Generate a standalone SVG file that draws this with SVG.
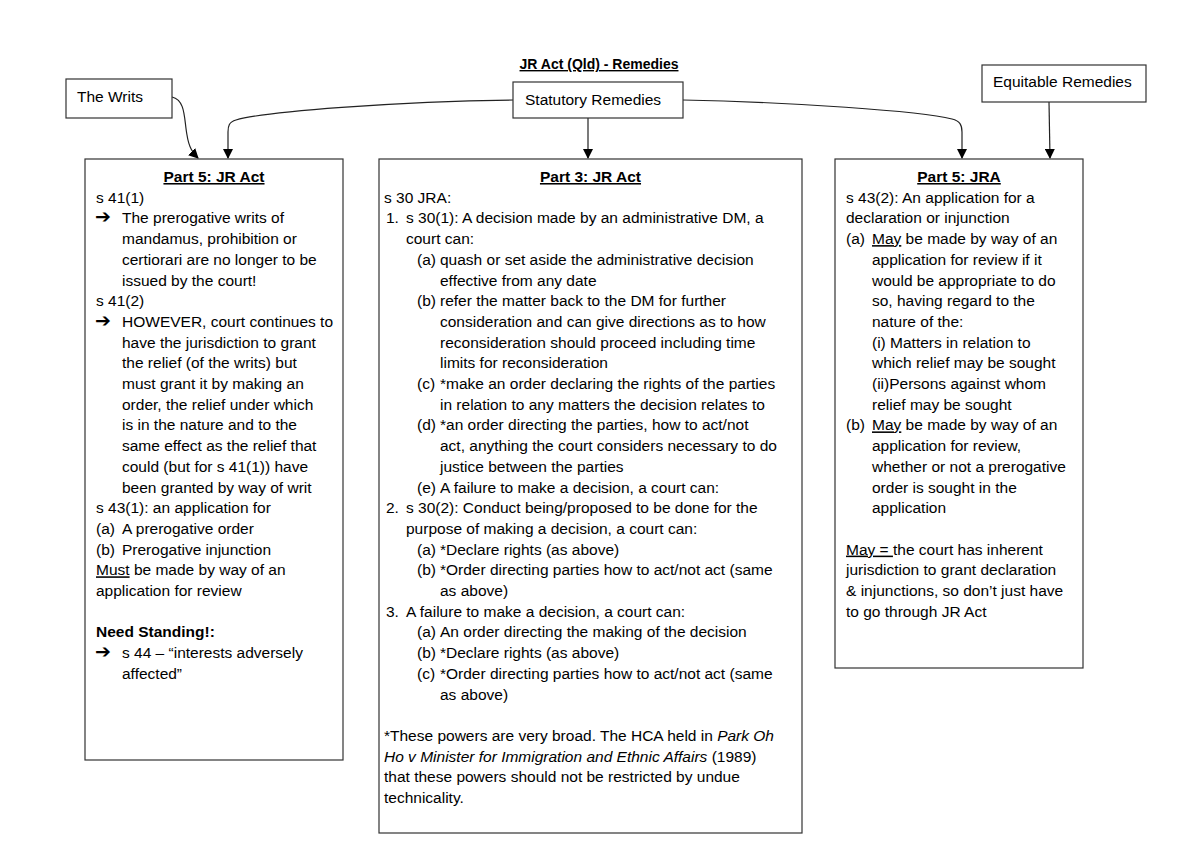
<svg xmlns="http://www.w3.org/2000/svg" width="1200" height="848" viewBox="0 0 1200 848">
<style>
text{font-family:"Liberation Sans",Arial,sans-serif;font-size:15.5px;fill:#000}
.b{font-weight:bold}
.u{text-decoration:underline}
.i{font-style:italic}
.c{text-anchor:middle}
.ar{font-family:"DejaVu Sans",sans-serif;font-size:19px;font-weight:bold}
.box{fill:#fff;stroke:#333;stroke-width:1.2}
.con{fill:none;stroke:#222;stroke-width:1.2}
</style>
<defs>
<marker id="ah" markerWidth="10" markerHeight="10" refX="9" refY="5" orient="auto" markerUnits="userSpaceOnUse">
<path d="M0,0 L10,5 L0,10 z" fill="#000"/>
</marker>
</defs>
<rect width="1200" height="848" fill="#fff"/>
<text x="599" y="69" class="b u c" style="font-size:14px">JR Act (Qld) - Remedies</text>

<g id="connectors">
<path class="con" d="M172,97 C186,100 184,120 187,135 C189,148 193,153 198,158" marker-end="url(#ah)"/>
<path class="con" d="M513,100 C400,101 262,112 236,120 C229,122 228,126 228,132 L228,158" marker-end="url(#ah)"/>
<path class="con" d="M588,118 L588,158" marker-end="url(#ah)"/>
<path class="con" d="M683,100 C790,102 920,111 952,119 C960,121 962,125 962,132 L962,158" marker-end="url(#ah)"/>
<path class="con" d="M1049,102 L1050,158" marker-end="url(#ah)"/>
</g>

<g id="writs">
<rect class="box" x="66" y="79" width="106" height="39"/>
<text x="77" y="102">The Writs</text>
</g>

<g id="statutory">
<rect class="box" x="513" y="82" width="170" height="36"/>
<text x="525" y="105">Statutory Remedies</text>
</g>

<g id="equitable">
<rect class="box" x="982" y="65" width="164" height="37"/>
<text x="993" y="87">Equitable Remedies</text>
</g>

<g id="part5-left">
<rect class="box" x="85" y="159" width="258" height="601"/>
<text x="214" y="182" class="b u c">Part 5: JR Act</text>
<text x="96" y="202.7">s 41(1)</text>
<text x="95" y="223.4" class="ar">➔</text>
<text x="122" y="223.4">The prerogative writs of</text>
<text x="122" y="244.1">mandamus, prohibition or</text>
<text x="122" y="264.8">certiorari are no longer to be</text>
<text x="122" y="285.5">issued by the court!</text>
<text x="96" y="306.2">s 41(2)</text>
<text x="95" y="326.9" class="ar">➔</text>
<text x="122" y="326.9">HOWEVER, court continues to</text>
<text x="122" y="347.6">have the jurisdiction to grant</text>
<text x="122" y="368.3">the relief (of the writs) but</text>
<text x="122" y="389">must grant it by making an</text>
<text x="122" y="409.7">order, the relief under which</text>
<text x="122" y="430.4">is in the nature and to the</text>
<text x="122" y="451.1">same effect as the relief that</text>
<text x="122" y="471.8">could (but for s 41(1)) have</text>
<text x="122" y="492.5">been granted by way of writ</text>
<text x="96" y="513.2">s 43(1): an application for</text>
<text x="96" y="533.9">(a)</text>
<text x="122" y="533.9">A prerogative order</text>
<text x="96" y="554.6">(b)</text>
<text x="122" y="554.6">Prerogative injunction</text>
<text x="96" y="575.3"><tspan class="u">Must</tspan> be made by way of an</text>
<text x="96" y="596">application for review</text>
<text x="96" y="637.4" class="b">Need Standing!:</text>
<text x="95" y="658.1" class="ar">➔</text>
<text x="122" y="658.1">s 44 – “interests adversely</text>
<text x="122" y="678.8">affected”</text>
</g>

<g id="part3-middle">
<rect class="box" x="379" y="159" width="423" height="674"/>
<text x="590.5" y="182" class="b u c">Part 3: JR Act</text>
<text x="384" y="202.7">s 30 JRA:</text>
<text x="386" y="223.4">1.</text>
<text x="406" y="223.4">s 30(1): A decision made by an administrative DM, a</text>
<text x="406" y="244.1">court can:</text>
<text x="417" y="264.8">(a)</text>
<text x="440" y="264.8">quash or set aside the administrative decision</text>
<text x="440" y="285.5">effective from any date</text>
<text x="417" y="306.2">(b)</text>
<text x="440" y="306.2">refer the matter back to the DM for further</text>
<text x="440" y="326.9">consideration and can give directions as to how</text>
<text x="440" y="347.6">reconsideration should proceed including time</text>
<text x="440" y="368.3">limits for reconsideration</text>
<text x="417" y="389">(c)</text>
<text x="440" y="389">*make an order declaring the rights of the parties</text>
<text x="440" y="409.7">in relation to any matters the decision relates to</text>
<text x="417" y="430.4">(d)</text>
<text x="440" y="430.4">*an order directing the parties, how to act/not</text>
<text x="440" y="451.1">act, anything the court considers necessary to do</text>
<text x="440" y="471.8">justice between the parties</text>
<text x="417" y="492.5">(e)</text>
<text x="440" y="492.5">A failure to make a decision, a court can:</text>
<text x="386" y="513.2">2.</text>
<text x="406" y="513.2">s 30(2): Conduct being/proposed to be done for the</text>
<text x="406" y="533.9">purpose of making a decision, a court can:</text>
<text x="417" y="554.6">(a)</text>
<text x="440" y="554.6">*Declare rights (as above)</text>
<text x="417" y="575.3">(b)</text>
<text x="440" y="575.3">*Order directing parties how to act/not act (same</text>
<text x="440" y="596">as above)</text>
<text x="386" y="616.7">3.</text>
<text x="406" y="616.7">A failure to make a decision, a court can:</text>
<text x="417" y="637.4">(a)</text>
<text x="440" y="637.4">An order directing the making of the decision</text>
<text x="417" y="658.1">(b)</text>
<text x="440" y="658.1">*Declare rights (as above)</text>
<text x="417" y="678.8">(c)</text>
<text x="440" y="678.8">*Order directing parties how to act/not act (same</text>
<text x="440" y="699.5">as above)</text>
<text x="384" y="740.9">*These powers are very broad. The HCA held in <tspan class="i">Park Oh</tspan></text>
<text x="384" y="761.6"><tspan class="i">Ho v Minister for Immigration and Ethnic Affairs</tspan> (1989)</text>
<text x="384" y="782.3">that these powers should not be restricted by undue</text>
<text x="384" y="803">technicality.</text>
</g>

<g id="part5-right">
<rect class="box" x="835" y="159" width="248" height="509"/>
<text x="959" y="182" class="b u c">Part 5: JRA</text>
<text x="846" y="202.7">s 43(2): An application for a</text>
<text x="846" y="223.4">declaration or injunction</text>
<text x="846" y="244.1">(a)</text>
<text x="872" y="244.1"><tspan class="u">May</tspan> be made by way of an</text>
<text x="872" y="264.8">application for review if it</text>
<text x="872" y="285.5">would be appropriate to do</text>
<text x="872" y="306.2">so, having regard to the</text>
<text x="872" y="326.9">nature of the:</text>
<text x="872" y="347.6">(i) Matters in relation to</text>
<text x="872" y="368.3">which relief may be sought</text>
<text x="872" y="389">(ii)Persons against whom</text>
<text x="872" y="409.7">relief may be sought</text>
<text x="846" y="430.4">(b)</text>
<text x="872" y="430.4"><tspan class="u">May</tspan> be made by way of an</text>
<text x="872" y="451.1">application for review,</text>
<text x="872" y="471.8">whether or not a prerogative</text>
<text x="872" y="492.5">order is sought in the</text>
<text x="872" y="513.2">application</text>
<text x="846" y="554.6"><tspan class="u">May = </tspan>the court has inherent</text>
<text x="846" y="575.3">jurisdiction to grant declaration</text>
<text x="846" y="596">&amp; injunctions, so don’t just have</text>
<text x="846" y="616.7">to go through JR Act</text>
</g>
</svg>
